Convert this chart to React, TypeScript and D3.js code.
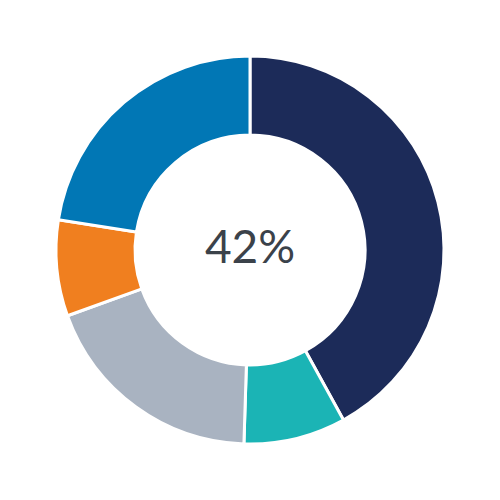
import React from 'react'
import * as d3 from 'd3'

// slice shares, clockwise from 12 o'clock
const labels: string[] = ['A', 'B', 'C', 'D', 'E']
const values: number[] = [42, 8.5, 19, 8, 22.5]
const colors: string[] = ['#1c2b59', '#1bb4b5', '#a9b3c1', '#f07f1f', '#0177b5']
const centerLabel = '42%'

const size = 500
const cx = 250
const cy = 250
const outerRadius = 194
const innerRadius = 115

const App = () => {
  const pie = d3.pie<number>().sort(null).value(d => d)
  const arc = d3.arc<d3.PieArcDatum<number>>()
    .innerRadius(innerRadius)
    .outerRadius(outerRadius)
  const arcs = pie(values)

  return (
    <svg width={size} height={size} style={{ position: 'absolute', left: 0, top: 0 }}>
      <rect width={size} height={size} fill='white' />
      <g transform={`translate(${cx}, ${cy})`}>
        {arcs.map((a, i) => (
          <path
            key={labels[i]}
            d={arc(a) || ''}
            fill={colors[i]}
            stroke='white'
            strokeWidth={3}
          />
        ))}
        <text
          x={0}
          y={13}
          textAnchor='middle'
          fontFamily='Lato, sans-serif'
          fontSize={46}
          fill='#3b424a'
        >
          {centerLabel}
        </text>
      </g>
    </svg>
  )
}

export default App
